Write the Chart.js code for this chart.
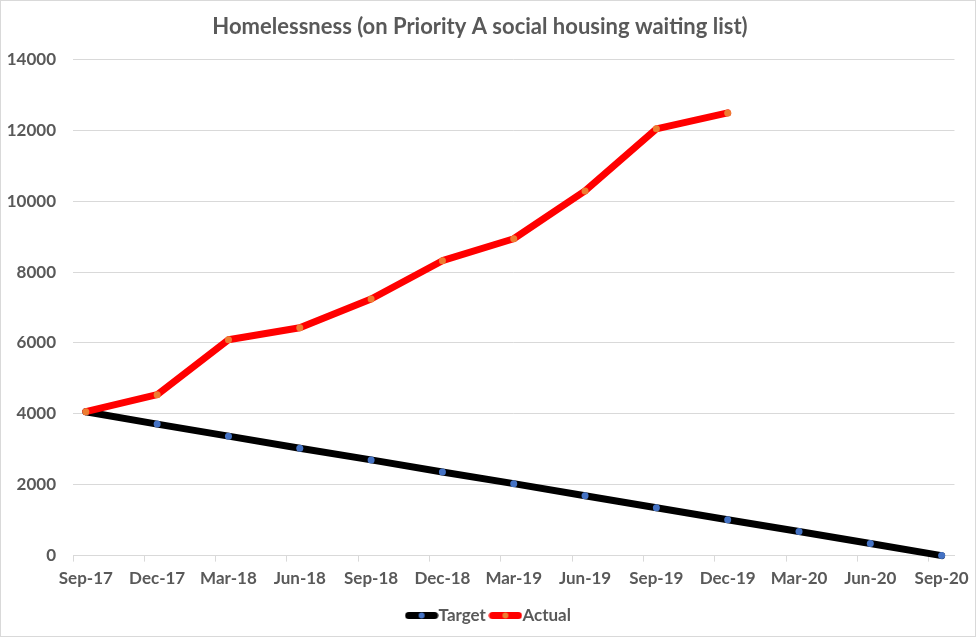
<!DOCTYPE html>
<html>
<head>
<meta charset="utf-8">
<script src="https://cdn.jsdelivr.net/npm/chart.js@4"></script>
<style>
  html, body { margin: 0; padding: 0; background: #fff; }
  #wrap { width: 976px; height: 637px; }
</style>
</head>
<body>
<div id="wrap"><canvas id="homelessChart" width="976" height="637"></canvas></div>
<script>
const categories = ['Sep-17', 'Dec-17', 'Mar-18', 'Jun-18', 'Sep-18', 'Dec-18', 'Mar-19',
  'Jun-19', 'Sep-19', 'Dec-19', 'Mar-20', 'Jun-20', 'Sep-20'];
const targetValues = [4060, 3710, 3370, 3030, 2700, 2360, 2030, 1690, 1350, 1010, 680, 340, 0];
const actualValues = [4060, 4540, 6090, 6430, 7240, 8320, 8940, 10290, 12040, 12490];
const yTicks = [0, 2000, 4000, 6000, 8000, 10000, 12000, 14000];

const FONT = 'Lato, "Open Sans", sans-serif';
const GREY = '#595959';
const EDGE = 0.18; // gap between plot edge and first/last point, in category units

// legend symbol: thick line with a marker dot in the middle
function legendSymbol(lineColor, dotColor) {
  const c = document.createElement('canvas');
  c.width = 34; c.height = 9;
  const g = c.getContext('2d');
  g.strokeStyle = lineColor;
  g.lineWidth = 7;
  g.lineCap = 'round';
  g.beginPath(); g.moveTo(4, 4.5); g.lineTo(30, 4.5); g.stroke();
  g.fillStyle = dotColor;
  g.beginPath(); g.arc(17, 4.5, 3, 0, Math.PI * 2); g.fill();
  return c;
}
const symbols = [legendSymbol('#000000', '#4472C4'), legendSymbol('#FF0000', '#ED7D31')];

const frame = {
  id: 'frame',
  beforeDraw(chart) {
    const g = chart.ctx;
    g.save();
    g.fillStyle = '#fff';
    g.fillRect(0, 0, chart.width, chart.height);
    g.restore();
  },
  afterLayout(chart) {
    // centre the legend under the plot area rather than the whole canvas
    const lg = chart.legend;
    if (lg) { lg.left += 12; lg.right += 12; }
  },
  afterDraw(chart) {
    const g = chart.ctx;
    g.save();
    g.strokeStyle = '#d9d9d9';
    g.lineWidth = 1;
    g.strokeRect(0.5, 0.5, chart.width - 1, chart.height - 1);
    g.restore();
  }
};

const ctx = document.getElementById('homelessChart').getContext('2d');
new Chart(ctx, {
  type: 'line',
  data: {
    datasets: [{
      label: 'Target',
      data: targetValues.map((v, i) => ({ x: i, y: v })),
      borderColor: '#000000',
      borderWidth: 7,
      borderCapStyle: 'round',
      borderJoinStyle: 'round',
      pointRadius: 3.5,
      pointBorderWidth: 0,
      pointBackgroundColor: '#4472C4',
      order: 1,
      clip: false
    }, {
      label: 'Actual',
      data: actualValues.map((v, i) => ({ x: i, y: v })),
      borderColor: '#FF0000',
      borderWidth: 7,
      borderCapStyle: 'round',
      borderJoinStyle: 'round',
      pointRadius: 3.5,
      pointBorderWidth: 0,
      pointBackgroundColor: '#ED7D31',
      order: 0,
      clip: false
    }]
  },
  options: {
    responsive: false,
    animation: false,
    devicePixelRatio: 1,
    layout: { padding: { left: 0, right: 16, top: 0, bottom: 3 } },
    scales: {
      x: {
        type: 'linear',
        min: -EDGE,
        max: categories.length - 1 + EDGE,
        weight: 1,
        afterBuildTicks: (scale) => { scale.ticks = categories.map((c, i) => ({ value: i })); },
        grid: { display: false, drawTicks: false },
        border: { display: false },
        ticks: {
          autoSkip: false,
          maxRotation: 0,
          padding: 7,
          color: GREY,
          font: { family: FONT, size: 17, weight: 'bold' },
          callback: (v) => categories[v]
        }
      },
      xTicks: {
        type: 'linear',
        position: 'bottom',
        axis: 'x',
        min: -EDGE,
        max: categories.length - 1 + EDGE,
        weight: 0,
        afterBuildTicks: (scale) => { scale.ticks = categories.map((c, i) => ({ value: i - EDGE })); },
        grid: { drawOnChartArea: false, tickLength: 6, color: '#d9d9d9' },
        border: { color: '#d9d9d9' },
        ticks: { display: false }
      },
      y: {
        min: 0,
        max: 14000,
        afterBuildTicks: (scale) => { scale.ticks = yTicks.map(v => ({ value: v })); },
        afterFit: (scale) => { scale.width = 73; },
        grid: { color: '#d9d9d9', drawTicks: false },
        border: { display: false },
        ticks: {
          padding: 17,
          color: GREY,
          font: { family: FONT, size: 17, weight: 'bold' },
          callback: (v) => String(v)
        }
      }
    },
    plugins: {
      title: {
        display: true,
        text: 'Homelessness (on Priority A social housing waiting list)',
        color: GREY,
        font: { family: FONT, size: 22, weight: 'bold' },
        padding: { top: 14, bottom: 19 }
      },
      legend: {
        display: true,
        position: 'bottom',
        labels: {
          usePointStyle: true,
          boxWidth: 20,
          boxHeight: 9,
          padding: 11,
          color: GREY,
          font: { family: FONT, size: 17, weight: 'bold' },
          generateLabels: (chart) => {
            const items = Chart.defaults.plugins.legend.labels.generateLabels(chart);
            items.sort((a, b) => a.datasetIndex - b.datasetIndex);
            items.forEach(it => { it.pointStyle = symbols[it.datasetIndex]; });
            return items;
          }
        }
      },
      tooltip: { enabled: false }
    }
  },
  plugins: [frame]
});
</script>
</body>
</html>
